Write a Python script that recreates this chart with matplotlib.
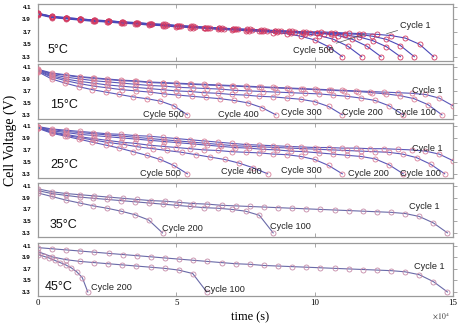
import numpy as np
import matplotlib.pyplot as plt

# ---------------- data ----------------
temps = ['5°C', '15°C', '25°C', '35°C', '45°C']
yticks = [3.3, 3.5, 3.7, 3.9, 4.1]
xticks = [0, 5, 10, 15]
xticklabels = ['0', '5', '10', '15']

# 5 °C : cycles 1,100,200,300,400,500  (end time in 1e4 s, voltages)
t5_end = [14.3, 13.6, 13.1, 12.4, 11.7, 11.0]
v5_c1 = [4.00, 3.95, 3.93, 3.91, 3.89, 3.88, 3.86, 3.85, 3.83, 3.82, 3.80, 3.79, 3.77, 3.76, 3.75,
         3.74, 3.73, 3.72, 3.71, 3.70, 3.70, 3.69, 3.68, 3.67, 3.66, 3.64, 3.60, 3.50, 3.30]
v5_c100 = [4.00, 3.95, 3.93, 3.91, 3.89, 3.88, 3.86, 3.85, 3.83, 3.82, 3.80, 3.79, 3.77, 3.76,
           3.75, 3.74, 3.73, 3.72, 3.71, 3.70, 3.69, 3.68, 3.67, 3.66, 3.63, 3.58, 3.48, 3.30]
v5_c200 = [3.99, 3.94, 3.92, 3.90, 3.89, 3.87, 3.86, 3.84, 3.83, 3.81, 3.80, 3.78, 3.77, 3.76,
           3.74, 3.73, 3.72, 3.71, 3.70, 3.69, 3.68, 3.67, 3.65, 3.62, 3.56, 3.46, 3.30]
v5_c300 = [3.99, 3.94, 3.92, 3.90, 3.88, 3.87, 3.85, 3.84, 3.82, 3.81, 3.79, 3.78, 3.77, 3.75,
           3.74, 3.73, 3.72, 3.71, 3.70, 3.69, 3.67, 3.64, 3.58, 3.47, 3.30]
v5_c400 = [3.99, 3.94, 3.92, 3.90, 3.88, 3.86, 3.85, 3.83, 3.82, 3.80, 3.79, 3.77, 3.76, 3.75,
           3.74, 3.72, 3.71, 3.70, 3.69, 3.67, 3.64, 3.58, 3.47, 3.30]
v5_c500 = [3.98, 3.93, 3.91, 3.89, 3.87, 3.86, 3.84, 3.83, 3.81, 3.80, 3.78, 3.77, 3.76, 3.74,
           3.73, 3.72, 3.71, 3.69, 3.67, 3.63, 3.57, 3.46, 3.30]

# 15 °C
t15_end = [15.0, 14.6, 13.2, 11.0, 8.6, 5.4]
v15_c1 = [4.06, 4.00, 3.97, 3.94, 3.92, 3.90, 3.88, 3.87, 3.85, 3.84, 3.83, 3.82, 3.81, 3.80, 3.79,
          3.78, 3.77, 3.76, 3.75, 3.74, 3.73, 3.72, 3.71, 3.70, 3.69, 3.68, 3.67, 3.66, 3.64, 3.58, 3.45]
v15_c100 = [4.05, 3.99, 3.96, 3.93, 3.91, 3.89, 3.87, 3.86, 3.84, 3.83, 3.82, 3.81, 3.80, 3.79, 3.78,
            3.77, 3.76, 3.75, 3.74, 3.73, 3.72, 3.71, 3.70, 3.69, 3.67, 3.65, 3.62, 3.57, 3.47, 3.30]
v15_c200 = [4.05, 3.97, 3.93, 3.90, 3.87, 3.85, 3.83, 3.81, 3.79, 3.78, 3.76, 3.75, 3.74, 3.73,
            3.71, 3.70, 3.69, 3.68, 3.67, 3.66, 3.65, 3.63, 3.61, 3.58, 3.54, 3.45, 3.30]
v15_c300 = [4.04, 3.95, 3.90, 3.86, 3.83, 3.80, 3.78, 3.76, 3.74, 3.72, 3.70, 3.69, 3.67, 3.66,
            3.64, 3.63, 3.61, 3.60, 3.58, 3.56, 3.52, 3.44, 3.30]
v15_c400 = [4.03, 3.93, 3.87, 3.82, 3.78, 3.75, 3.72, 3.70, 3.68, 3.65, 3.63, 3.61, 3.59, 3.57,
            3.54, 3.50, 3.42, 3.30]
v15_c500 = [4.02, 3.90, 3.83, 3.77, 3.72, 3.68, 3.64, 3.60, 3.57, 3.53, 3.45, 3.30]

# 25 °C
t25_end = [15.0, 14.7, 13.2, 11.0, 8.3, 5.4]
v25_c1 = [4.09, 4.05, 4.03, 4.01, 3.99, 3.97, 3.96, 3.94, 3.93, 3.91, 3.89, 3.87, 3.85, 3.83, 3.81,
          3.79, 3.78, 3.77, 3.76, 3.75, 3.74, 3.74, 3.73, 3.73, 3.72, 3.72, 3.71, 3.70, 3.68, 3.63, 3.52]
v25_c100 = [4.08, 4.04, 4.01, 3.99, 3.97, 3.95, 3.93, 3.91, 3.89, 3.87, 3.85, 3.83, 3.81, 3.79, 3.77,
            3.76, 3.75, 3.74, 3.73, 3.72, 3.71, 3.70, 3.69, 3.68, 3.67, 3.66, 3.63, 3.57, 3.46, 3.30]
v25_c200 = [4.08, 4.02, 3.99, 3.96, 3.94, 3.92, 3.90, 3.88, 3.86, 3.84, 3.82, 3.80, 3.78, 3.76,
            3.74, 3.73, 3.71, 3.70, 3.68, 3.67, 3.65, 3.63, 3.61, 3.59, 3.55, 3.45, 3.30]
v25_c300 = [4.07, 4.00, 3.96, 3.92, 3.89, 3.86, 3.83, 3.81, 3.78, 3.76, 3.74, 3.72, 3.70, 3.69,
            3.67, 3.66, 3.65, 3.63, 3.62, 3.59, 3.54, 3.44, 3.30]
v25_c400 = [4.07, 3.99, 3.94, 3.90, 3.86, 3.82, 3.79, 3.75, 3.72, 3.69, 3.66, 3.62, 3.58, 3.54,
            3.48, 3.40, 3.30]
v25_c500 = [4.06, 3.98, 3.93, 3.88, 3.83, 3.78, 3.73, 3.67, 3.61, 3.54, 3.44, 3.30]

# 35 °C : cycles 1, 100, 200
t35_end = [14.8, 8.5, 4.5]
v35_c1 = [4.05, 4.00, 3.97, 3.95, 3.93, 3.91, 3.89, 3.87, 3.85, 3.84, 3.82, 3.80, 3.79, 3.77, 3.76,
          3.75, 3.74, 3.73, 3.72, 3.71, 3.70, 3.69, 3.68, 3.67, 3.66, 3.65, 3.63, 3.58, 3.47, 3.30]
v35_c100 = [4.02, 3.97, 3.94, 3.91, 3.89, 3.87, 3.85, 3.83, 3.81, 3.79, 3.77, 3.75, 3.73, 3.72,
            3.70, 3.67, 3.60, 3.30]
v35_c200 = [3.98, 3.92, 3.86, 3.81, 3.76, 3.72, 3.67, 3.61, 3.52, 3.30]

# 45 °C : cycles 1, 100, 200
t45_end = [14.8, 6.1, 1.8]
v45_c1 = [4.07, 4.05, 4.03, 4.01, 3.99, 3.97, 3.95, 3.93, 3.91, 3.89, 3.87, 3.85, 3.83, 3.81, 3.79,
          3.78, 3.76, 3.75, 3.74, 3.73, 3.72, 3.71, 3.70, 3.69, 3.68, 3.67, 3.65, 3.60, 3.48, 3.30]
v45_c100 = [4.00, 3.91, 3.86, 3.83, 3.81, 3.79, 3.77, 3.75, 3.73, 3.71, 3.68, 3.62, 3.30]
v45_c200 = [3.95, 3.92, 3.89, 3.85, 3.81, 3.77, 3.72, 3.65, 3.55, 3.30]

panels = [
    (t5_end, [v5_c1, v5_c100, v5_c200, v5_c300, v5_c400, v5_c500]),
    (t15_end, [v15_c1, v15_c100, v15_c200, v15_c300, v15_c400, v15_c500]),
    (t25_end, [v25_c1, v25_c100, v25_c200, v25_c300, v25_c400, v25_c500]),
    (t35_end, [v35_c1, v35_c100, v35_c200]),
    (t45_end, [v45_c1, v45_c100, v45_c200]),
]

# labels: (text, x, y) in data units
labels = [
    [],
    [('Cycle 500', 3.8, 3.31), ('Cycle 400', 6.5, 3.31), ('Cycle 300', 8.8, 3.34),
     ('Cycle 200', 11.0, 3.34), ('Cycle 100', 12.9, 3.34), ('Cycle 1', 13.5, 3.70)],
    [('Cycle 500', 3.7, 3.31), ('Cycle 400', 6.6, 3.34), ('Cycle 300', 8.8, 3.35),
     ('Cycle 200', 11.2, 3.31), ('Cycle 100', 13.1, 3.31), ('Cycle 1', 13.5, 3.73)],
    [('Cycle 200', 4.5, 3.37), ('Cycle 100', 8.4, 3.41), ('Cycle 1', 13.4, 3.75)],
    [('Cycle 200', 1.9, 3.38), ('Cycle 100', 6.0, 3.34), ('Cycle 1', 13.6, 3.74)],
]
temp_pos = [(0.36, 3.41), (0.43, 3.47), (0.43, 3.45), (0.43, 3.44), (0.25, 3.39)]

# ---------------- layout ----------------
W, H = 474, 332
fig = plt.figure(figsize=(W / 100, H / 100), dpi=100)
panel_px = [(4, 61), (64, 119), (123, 178), (183, 237), (243, 296)]
left_px, right_px = 38, 453

line_col = ['#4a48b8', '#5a58b8', '#5a58b8', '#6a6aa8', '#6a6aa8']
mk_col = ['#d23a62', '#dc7e96', '#d9809a', '#c58aa8', '#c58aa8']
frame_col = '#9a9a9a'

axes = []
for i, (top, bot) in enumerate(panel_px):
    ax = fig.add_axes([left_px / W, 1 - bot / H, (right_px - left_px) / W, (bot - top) / H])
    axes.append(ax)
    ends, series = panels[i]
    for tend, v in zip(ends, series):
        t = np.linspace(0, tend, len(v))
        ax.plot(t, v, color=line_col[i], lw=0.8, zorder=2)
        ax.plot(t, v, ls='none', marker='o', ms=3.6, mfc='none',
                mec=mk_col[i], mew=0.6, zorder=3)
    ax.set_xlim(0, 15)
    ax.set_ylim(3.23, 4.15)
    ax.set_yticks(yticks)
    ax.set_yticklabels([f'{y:.1f}' for y in yticks], fontsize=4.4,
                       fontweight='bold', family='Liberation Sans')
    ax.set_xticks(xticks)
    ax.tick_params(axis='y', left=False, right=True, direction='out', length=3,
                   color=frame_col, pad=2, width=0.6)
    ax.tick_params(axis='x', top=True, bottom=True, direction='in', length=3,
                   color=frame_col, width=0.6)
    for s in ax.spines.values():
        s.set_color(frame_col)
        s.set_linewidth(0.9)
    if i < 4:
        ax.set_xticklabels([])
    else:
        ax.set_xticklabels(xticklabels, fontsize=6.3, family='Liberation Serif')
        ax.tick_params(axis='x', pad=2)
    tx, ty = temp_pos[i]
    ax.text(tx, ty, temps[i], fontsize=9, family='Liberation Sans', va='center', ha='left',
            color='#111111', zorder=5)
    for txt, lx, ly in labels[i]:
        ax.text(lx, ly, txt, fontsize=6.6, family='Liberation Sans', va='center', ha='left',
                color='#222222', zorder=5)

# panel 1 labels with leader lines
axes[0].annotate('Cycle 1', xy=(12.6, 3.67), xytext=(13.1, 3.81), fontsize=6.6,
                 family='Liberation Sans', va='center', ha='left', color='#222222',
                 arrowprops=dict(arrowstyle='-', lw=0.5, color='#555555', shrinkA=0, shrinkB=0))
axes[0].annotate('Cycle 500', xy=(11.8, 3.66), xytext=(9.2, 3.40), fontsize=6.6,
                 family='Liberation Sans', va='center', ha='left', color='#222222',
                 arrowprops=dict(arrowstyle='-', lw=0.5, color='#555555', shrinkA=0, shrinkB=0))

fig.text(250 / W, 1 - 317 / H, 'time (s)', fontsize=9, family='Liberation Serif',
         ha='center', va='center')
fig.text(441 / W, 1 - 316 / H, r'$\times\,10^4$', fontsize=5.5, ha='center', va='center',
         family='Liberation Serif', math_fontfamily='stix', color='#333333')
fig.text(10 / W, 1 - 140 / H, 'Cell Voltage (V)', fontsize=10, family='Liberation Serif',
         rotation=90, ha='center', va='center')

fig.savefig('out.png', dpi=100)
